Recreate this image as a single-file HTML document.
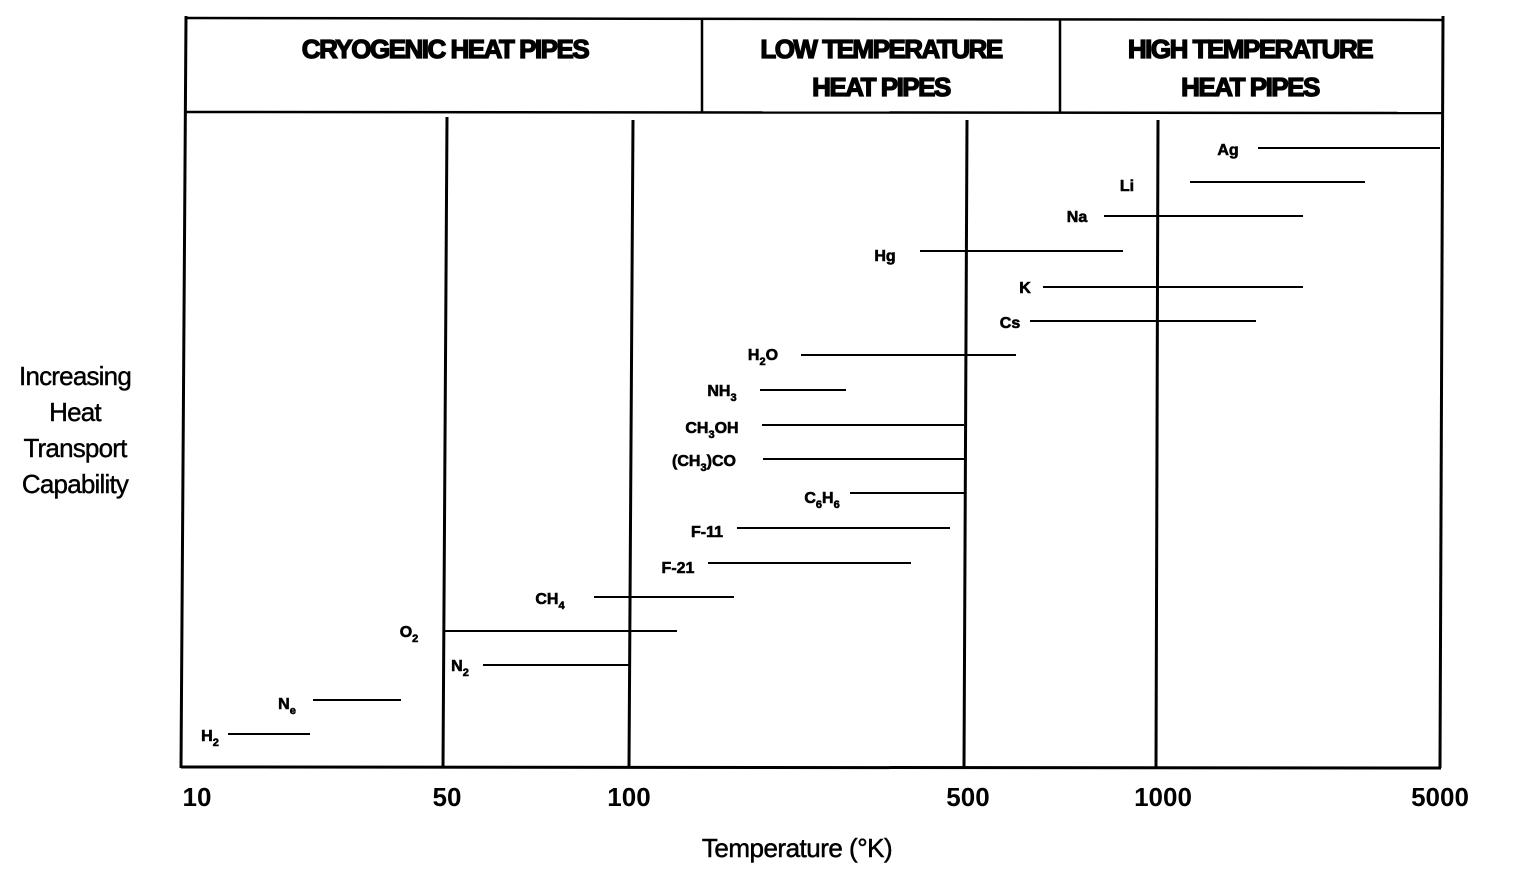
<!DOCTYPE html>
<html><head><style>
html,body{margin:0;padding:0;background:#fff;}
svg{display:block;}
text{font-family:"Liberation Sans",Arial,sans-serif;fill:#000;}
.h{font-size:26px;font-weight:bold;letter-spacing:-1.5px;text-anchor:middle;stroke:#000;stroke-width:1.3px;}
.s{font-size:16px;font-weight:bold;text-anchor:middle;stroke:#000;stroke-width:0.6px;}
.b{font-size:11px;font-weight:bold;}
.t{font-size:26px;font-weight:bold;text-anchor:middle;}
.tt{font-size:26px;text-anchor:middle;stroke:#000;stroke-width:0.5px;letter-spacing:-0.5px;}
.y{font-size:26px;text-anchor:middle;letter-spacing:-0.8px;stroke:#000;stroke-width:0.4px;}
</style></head><body>
<svg width="1513" height="877" viewBox="0 0 1513 877" xmlns="http://www.w3.org/2000/svg">
<g stroke="#000" fill="none">
<line x1="186" y1="18" x2="1443" y2="20" stroke-width="2.5"/>
<line x1="186" y1="112" x2="1443" y2="113" stroke-width="2.5"/>
<line x1="186" y1="16" x2="181" y2="768" stroke-width="3"/>
<line x1="1443" y1="16" x2="1440" y2="768" stroke-width="3"/>
<line x1="702" y1="20" x2="702" y2="113" stroke-width="2.5"/>
<line x1="1060" y1="20" x2="1060" y2="113" stroke-width="2.5"/>
<line x1="181" y1="767" x2="1441" y2="768" stroke-width="3"/>
<line x1="447" y1="117" x2="443" y2="767" stroke-width="3"/>
<line x1="633" y1="120" x2="629" y2="767" stroke-width="3"/>
<line x1="967" y1="120" x2="964" y2="767" stroke-width="3"/>
<line x1="1158" y1="120" x2="1156" y2="767" stroke-width="3"/>
<g stroke-width="2">
<line x1="1258" y1="148" x2="1440" y2="148"/>
<line x1="1190" y1="182" x2="1365" y2="182"/>
<line x1="1104" y1="216" x2="1303" y2="216"/>
<line x1="920" y1="251" x2="1123" y2="251"/>
<line x1="1043" y1="287" x2="1303" y2="287"/>
<line x1="1030" y1="321" x2="1256" y2="321"/>
<line x1="801" y1="355" x2="1016" y2="355"/>
<line x1="760" y1="390" x2="846" y2="390"/>
<line x1="762" y1="425" x2="964" y2="425"/>
<line x1="763" y1="459" x2="964" y2="459"/>
<line x1="850" y1="493" x2="964" y2="493"/>
<line x1="737" y1="528" x2="950" y2="528"/>
<line x1="708" y1="563" x2="911" y2="563"/>
<line x1="594" y1="597" x2="734" y2="597"/>
<line x1="443" y1="631" x2="677" y2="631"/>
<line x1="483" y1="665" x2="629" y2="665"/>
<line x1="313" y1="700" x2="401" y2="700"/>
<line x1="228" y1="734" x2="310" y2="734"/>
</g>
</g>
<text class="h" x="445" y="58">CRYOGENIC HEAT PIPES</text>
<text class="h" x="881" y="58">LOW TEMPERATURE</text>
<text class="h" x="881" y="96">HEAT PIPES</text>
<text class="h" x="1250" y="58">HIGH TEMPERATURE</text>
<text class="h" x="1250" y="96">HEAT PIPES</text>
<text class="s" x="1228" y="155">Ag</text>
<text class="s" x="1127" y="191">Li</text>
<text class="s" x="1077" y="222">Na</text>
<text class="s" x="885" y="261">Hg</text>
<text class="s" x="1025" y="293">K</text>
<text class="s" x="1010" y="328">Cs</text>
<text class="s" x="763" y="360">H<tspan class="b" dy="5">2</tspan><tspan dy="-5">O</tspan></text>
<text class="s" x="722" y="396">NH<tspan class="b" dy="5">3</tspan></text>
<text class="s" x="712" y="433">CH<tspan class="b" dy="5">3</tspan><tspan dy="-5">OH</tspan></text>
<text class="s" x="704" y="466">(CH<tspan class="b" dy="5">3</tspan><tspan dy="-5">)CO</tspan></text>
<text class="s" x="822" y="503">C<tspan class="b" dy="5">6</tspan><tspan dy="-5">H</tspan><tspan class="b" dy="5">6</tspan></text>
<text class="s" x="707" y="537">F-11</text>
<text class="s" x="678" y="573">F-21</text>
<text class="s" x="550" y="604">CH<tspan class="b" dy="5">4</tspan></text>
<text class="s" x="409" y="637">O<tspan class="b" dy="5">2</tspan></text>
<text class="s" x="460" y="671">N<tspan class="b" dy="5">2</tspan></text>
<text class="s" x="287" y="709">N<tspan class="b" dy="5">e</tspan></text>
<text class="s" x="210" y="741">H<tspan class="b" dy="5">2</tspan></text>
<text class="t" x="197" y="806">10</text>
<text class="t" x="447" y="806">50</text>
<text class="t" x="629" y="806">100</text>
<text class="t" x="968" y="806">500</text>
<text class="t" x="1163" y="806">1000</text>
<text class="t" x="1440" y="806">5000</text>
<text class="tt" x="797" y="857">Temperature (°K)</text>
<text class="y" x="75" y="385">Increasing</text>
<text class="y" x="75" y="421">Heat</text>
<text class="y" x="75" y="457">Transport</text>
<text class="y" x="75" y="493">Capability</text>
</svg>
</body></html>
